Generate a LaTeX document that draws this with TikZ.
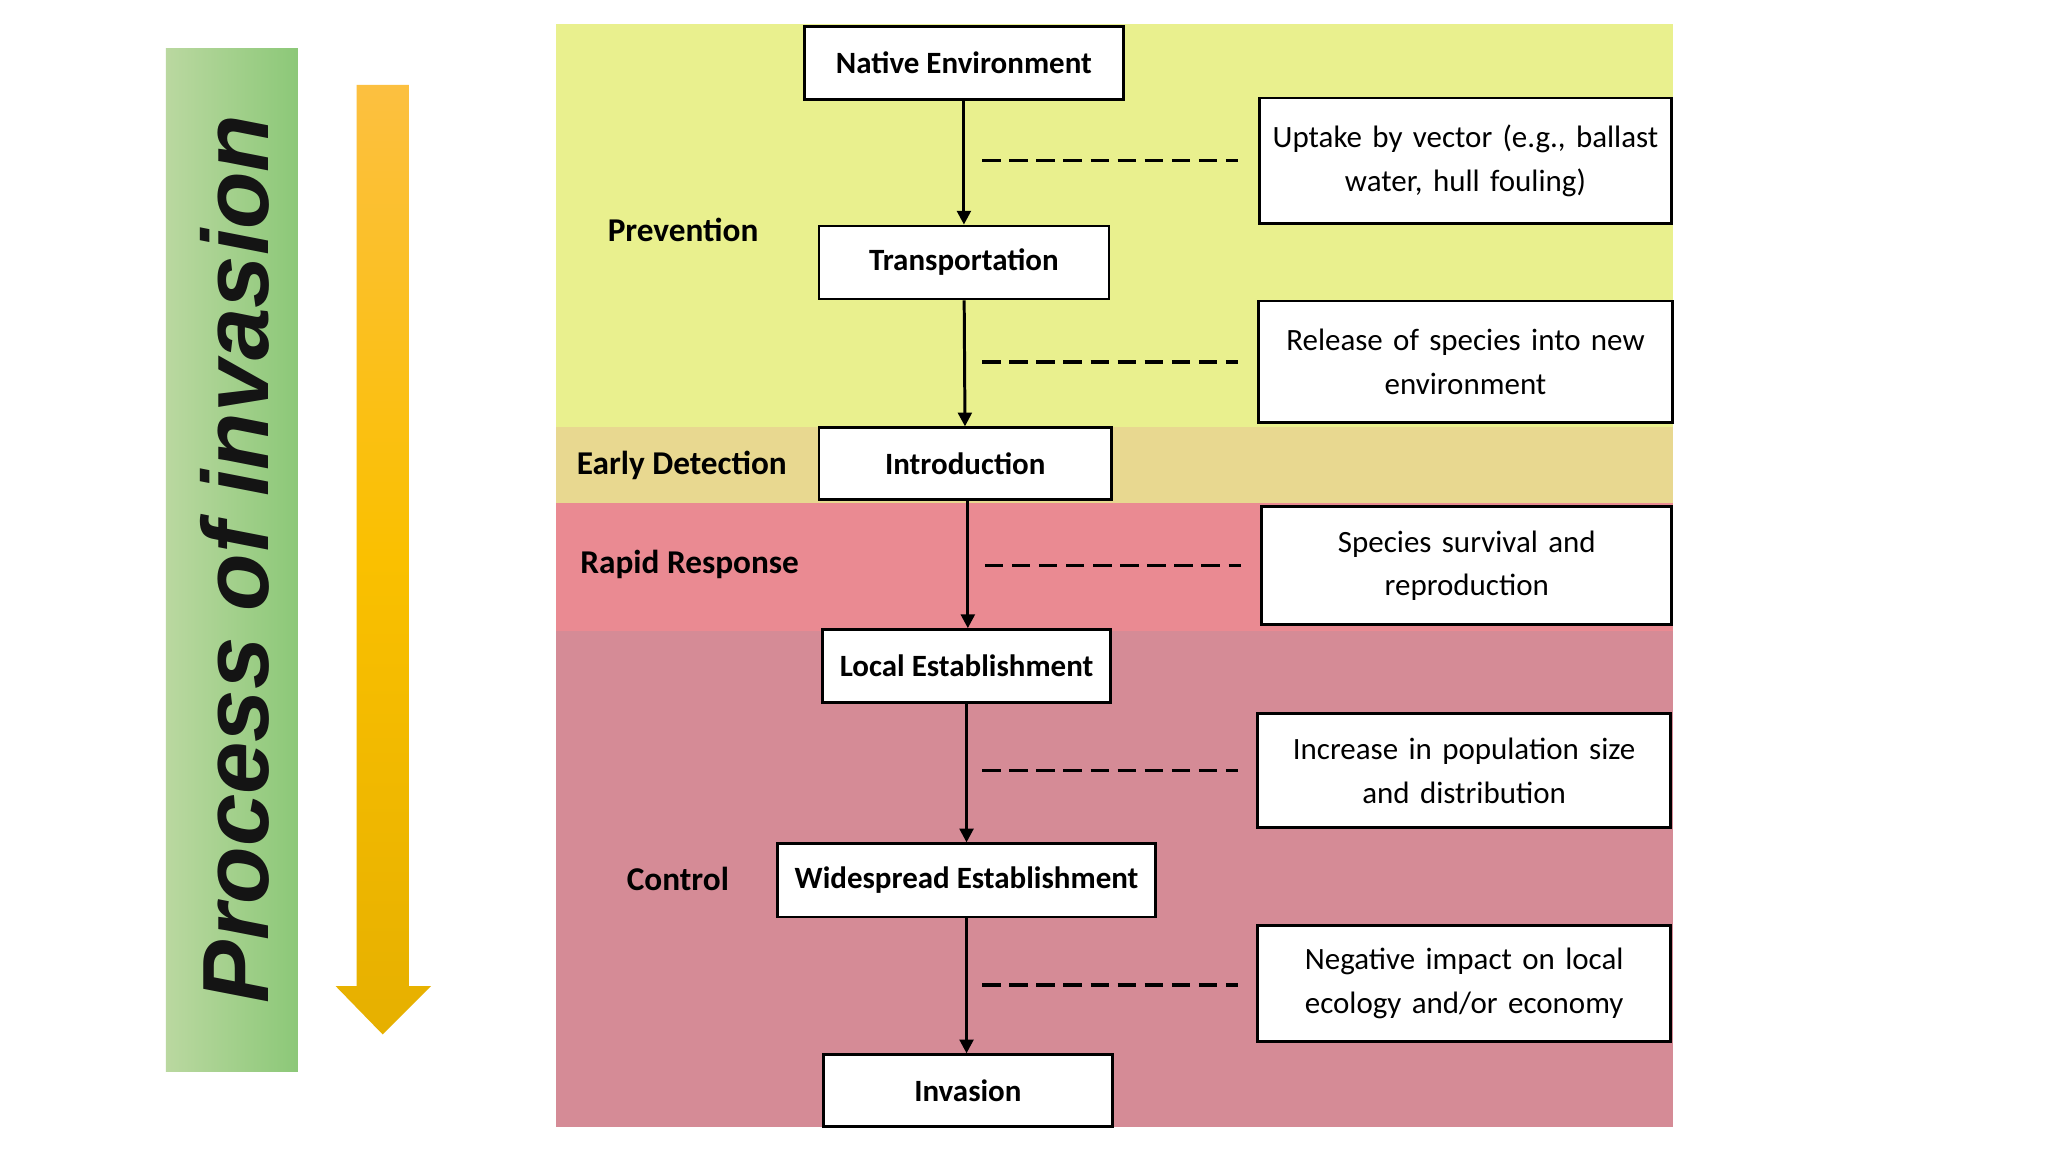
\documentclass[tikz,border=0pt]{standalone}
\usepackage{fontspec}
\setmainfont{Carlito}
\newfontfamily\titlefont{Liberation Sans}
\usetikzlibrary{arrows.meta}
\begin{document}
\begin{tikzpicture}[x=0.02cm,y=-0.02cm,
  box/.style={draw=black,line width=1.2pt,fill=white,font=\fontsize{13.5}{19}\selectfont,align=center,inner sep=0pt},
  bb/.style={box,font=\fontsize{13.5}{17}\selectfont\bfseries},
  lab/.style={font=\fontsize{14.5}{18}\selectfont\bfseries},
  arr/.style={line width=1.3pt,-{Triangle[length=6pt,width=6pt]}},
  dsh/.style={line width=1.5pt,dash pattern=on 8pt off 3.8pt}]
\useasboundingbox (0,0) rectangle (1568,882);
\fill[white] (0,0) rectangle (1568,882);
% regions
\fill[fill={rgb,255:red,233;green,240;blue,142}] (426,18) rectangle (1281,327);
\fill[fill={rgb,255:red,232;green,216;blue,144}] (426,327) rectangle (1281,385);
\fill[fill={rgb,255:red,234;green,138;blue,146}] (426,385) rectangle (1281,483);
\fill[fill={rgb,255:red,213;green,139;blue,150}] (426,483) rectangle (1281,863);
% green bar
\shade[left color={rgb,255:red,186;green,216;blue,160},right color={rgb,255:red,140;green,200;blue,120}] (127,37) rectangle (228,820);
\node[rotate=90,font=\titlefont\fontsize{41}{48}\selectfont\bfseries\itshape,text={rgb,255:red,20;green,20;blue,20}] (title) at (180,428) {Process of invasion};
% arrow
\shade[top color={rgb,255:red,252;green,192;blue,64},bottom color={rgb,255:red,230;green,176;blue,0},middle color={rgb,255:red,250;green,192;blue,0}]
  (273,65) -- (313,65) -- (313,755) -- (330,755) -- (293,792) -- (257,755) -- (273,755) -- cycle;
% main boxes
\node[bb,minimum width=4.88cm,minimum height=1.12cm] (n1) at (738,48) {Native Environment};
\node[bb,minimum width=4.44cm,minimum height=1.12cm] (n2) at (738,201) {Transportation};
\node[bb,minimum width=4.48cm,minimum height=1.10cm] (n3) at (739,355) {Introduction};
\node[bb,minimum width=4.42cm,minimum height=1.12cm] (n4) at (740,510) {Local Establishment};
\node[bb,minimum width=5.78cm,minimum height=1.12cm] (n5) at (740,674) {Widespread Establishment};
\node[bb,minimum width=4.42cm,minimum height=1.10cm] (n6) at (741,835) {Invasion};
% side boxes
\node[box,minimum width=6.30cm,minimum height=1.92cm,text width=6cm] (s1) at (1122,123) {Uptake by vector (e.g., ballast\\water, hull fouling)};
\node[box,minimum width=6.34cm,minimum height=1.86cm,text width=6cm] (s2) at (1122,277) {Release of species into new\\environment};
\node[box,minimum width=6.28cm,minimum height=1.80cm,text width=6cm] (s3) at (1123,433) {Species survival and\\reproduction};
\node[box,minimum width=6.32cm,minimum height=1.74cm,text width=6cm] (s4) at (1121,590) {Increase in population size\\and distribution};
\node[box,minimum width=6.32cm,minimum height=1.78cm,text width=6cm] (s5) at (1121,753) {Negative impact on local\\ecology and/or economy};
% arrows
\draw[arr] (n1) -- (n2);
\draw[arr] (n2) -- (n3);
\draw[arr] (n3.south -| 741,0) -- (n4.north -| 741,0);
\draw[arr] (n4) -- (n5.north -| n4);
\draw[arr] (n5.south -| n4) -- (n6.north -| n4);
% dashed
\coordinate (d1) at (752,123); \coordinate (d2) at (752,277); \coordinate (d3) at (754,433);
\coordinate (d4) at (752,590); \coordinate (d5) at (752,754);
\draw[dsh] (d1) -- (948,123);
\draw[dsh] (d2) -- (948,277);
\draw[dsh] (d3) -- (950,433);
\draw[dsh] (d4) -- (948,590);
\draw[dsh] (d5) -- (948,754);
% labels
\node[lab] (l1) at (523,176) {Prevention};
\node[lab] (l2) at (522,356) {Early Detection};
\node[lab] (l3) at (528,432) {Rapid Response};
\node[lab] (l4) at (519,673) {Control};
\end{tikzpicture}
\end{document}
